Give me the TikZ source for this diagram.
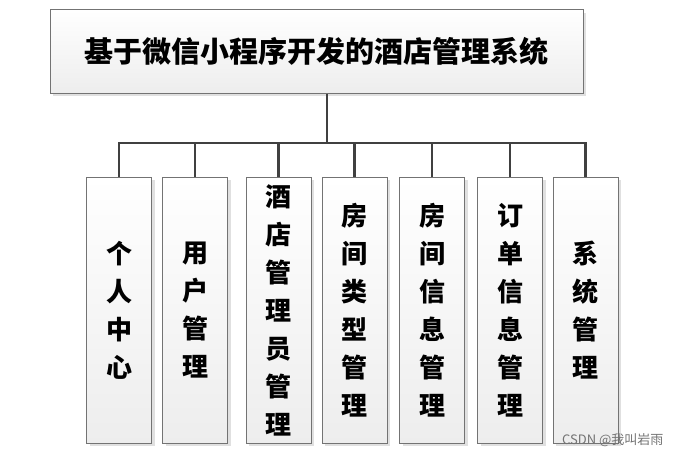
\documentclass[tikz,border=0pt]{standalone}
\usepackage{fontspec}
\setmainfont{Noto Sans CJK SC}
\usetikzlibrary{shadows}
\begin{document}
\begin{tikzpicture}[x=1pt,y=-1pt,
  box/.style={draw=black!55,line width=1pt,top color=white,bottom color=black!7,
    drop shadow={shadow xshift=3pt,shadow yshift=-3pt,fill=black!20,opacity=0.6}},
  child/.style={box,minimum width=65pt,minimum height=266pt,inner sep=0pt,
    align=center,font=\fontsize{26}{38}\selectfont\bfseries},
  conn/.style={draw=black!75,line width=2.2pt}]
\useasboundingbox (0,0) rectangle (680,460);
\node[box,minimum width=533pt,minimum height=83pt,font=\fontsize{29}{32}\selectfont\bfseries] (top) at (316.5,51.5) {基于微信小程序开发的酒店管理系统};
\node[child] (c1) at (119,310) {个\\人\\中\\心};
\node[child] (c2) at (195,310) {用\\户\\管\\理};
\node[child] (c3) at (278.5,310) {酒\\店\\管\\理\\员\\管\\理};
\node[child] (c4) at (354.5,310) {房\\间\\类\\型\\管\\理};
\node[child] (c5) at (432,310) {房\\间\\信\\息\\管\\理};
\node[child] (c6) at (510,310) {订\\单\\信\\息\\管\\理};
\node[child] (c7) at (585.5,310) {系\\统\\管\\理};
\coordinate (bus) at (327,143);
\draw[conn] (top.south -| bus) -- (bus);
\foreach \i in {1,...,7}{\draw[conn] (c\i.north) |- (bus);}
\node[font=\fontsize{13}{15}\selectfont,text=black!55,anchor=east] (wm) at (667,440) {CSDN @我叫岩雨};
\end{tikzpicture}
\end{document}
